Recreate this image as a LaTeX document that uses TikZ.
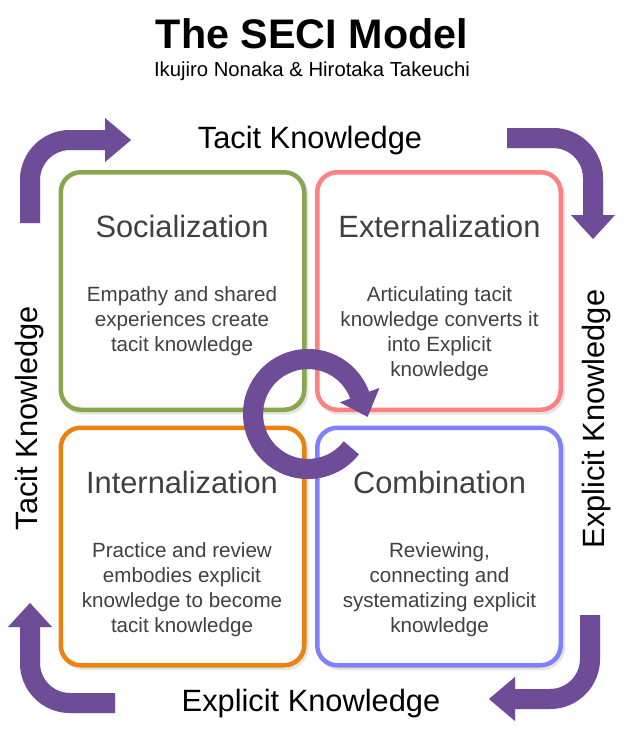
\documentclass[tikz,border=0pt]{standalone}
\usepackage{fontspec}
\setmainfont{Liberation Sans}
\usetikzlibrary{calc}
\definecolor{secigreen}{RGB}{137,165,78}
\definecolor{secipink}{RGB}{255,128,128}
\definecolor{seciorange}{RGB}{235,130,15}
\definecolor{seciblue}{RGB}{128,128,255}
\definecolor{arrowpurple}{RGB}{110,76,152}
\definecolor{textgray}{RGB}{64,64,64}
\newcommand\setfs[2]{\fontsize{#1}{#2}\selectfont}
\begin{document}
\begin{tikzpicture}[x=1pt,y=-1pt,
  boxframe/.style={draw, line width=4.5pt, rounded corners=20pt, fill=white,
    minimum width=243.5pt, minimum height=237.5pt, inner sep=0pt},
  boxtitle/.style={anchor=base, text=textgray, font=\setfs{30.8}{36}},
  boxbody/.style={anchor=center, align=center, text=textgray, font=\setfs{20.6}{25}},
  sidelabel/.style={anchor=base, text=black, font=\setfs{30.8}{36}},
  band/.style={line width=20pt, line cap=butt},
]
\useasboundingbox (0,0) rectangle (625,734);
\fill[white] (0,0) rectangle (625,734);

% titles
\node[anchor=base, font=\bfseries\setfs{41.3}{49}] (title) at (312,48) {The SECI Model};
\node[anchor=base, font=\setfs{20.3}{24}] (authors) at (312,76) {Ikujiro Nonaka \& Hirotaka Takeuchi};

% axis labels
\node[sidelabel] (tacittop) at (310,148) {Tacit Knowledge};
\node[sidelabel] (explicitbottom) at (311,711) {Explicit Knowledge};
\node[sidelabel, rotate=90] (tacitleft) at (37,418) {Tacit Knowledge};
\node[sidelabel, rotate=90] (explicitright) at (604,419) {Explicit Knowledge};

% box shadows
\foreach \cx/\cy in {182.5/291, 439/291, 182.5/546.5, 439/546.5}{
  \node[boxframe, draw=black!10, fill=black!10, line width=4.5pt] at (\cx+2,\cy+2.5) {};
}

% quadrants
\node[boxframe, draw=secigreen] (soc) at (182.5,291) {};
\node[boxframe, draw=secipink] (ext) at (439,291) {};
\node[boxframe, draw=seciorange] (int) at (182.5,546.5) {};
\node[boxframe, draw=seciblue] (com) at (439,546.5) {};

\node[boxtitle] (soctitle) at (182,237) {Socialization};
\node[boxtitle] (exttitle) at (439.5,237) {Externalization};
\node[boxtitle] (inttitle) at (182,493) {Internalization};
\node[boxtitle] (comtitle) at (439.5,493) {Combination};

\node[boxbody] (socbody) at (182,321) {Empathy and shared\\experiences create\\tacit knowledge};
\node[boxbody] (extbody) at (439.5,333.5) {Articulating tacit\\knowledge converts it\\into Explicit\\knowledge};
\node[boxbody] (intbody) at (182,589.5) {Practice and review\\embodies explicit\\knowledge to become\\tacit knowledge};
\node[boxbody] (combody) at (439.5,589.5) {Reviewing,\\connecting and\\systematizing explicit\\knowledge};

% named points of the cycle arrows
\coordinate (tlstart) at (30,223);
\coordinate (tlcorner) at (30,140);
\coordinate (tlend) at (106,140);
\coordinate (trstart) at (507,138);
\coordinate (trcorner) at (593,138);
\coordinate (trend) at (593,216);
\coordinate (brstart) at (590,615);
\coordinate (brcorner) at (590,699);
\coordinate (brend) at (514,699);
\coordinate (blstart) at (115,703);
\coordinate (blcorner) at (30,703);
\coordinate (blend) at (30,626);
\coordinate (ringc) at (308,414);

\foreach \sx/\sy/\col/\op in {2/3/black/0.22, 0/0/arrowpurple/1}{
  \begin{scope}[shift={(\sx,\sy)}, transparency group, opacity=\op]
    % top-left
    \draw[band, draw=\col, rounded corners=40pt] (tlstart) -- (tlcorner) -- (tlend);
    \fill[\col] ($(tlend)+(-1,-22)$) -- ($(tlend)+(25,0)$) -- ($(tlend)+(-1,22)$) -- cycle;
    % top-right
    \draw[band, draw=\col, rounded corners=40pt] (trstart) -- (trcorner) -- (trend);
    \fill[\col] ($(trend)+(-22,-1)$) -- ($(trend)+(0,23)$) -- ($(trend)+(22,-1)$) -- cycle;
    % bottom-right
    \draw[band, draw=\col, rounded corners=40pt] (brstart) -- (brcorner) -- (brend);
    \fill[\col] ($(brend)+(1,-22)$) -- ($(brend)+(-25,0)$) -- ($(brend)+(1,22)$) -- cycle;
    % bottom-left
    \draw[band, draw=\col, rounded corners=40pt] (blstart) -- (blcorner) -- (blend);
    \fill[\col] ($(blend)+(-22,1)$) -- ($(blend)+(0,-23)$) -- ($(blend)+(22,1)$) -- cycle;
    % central cycle
    \draw[band, draw=\col] ($(ringc)+(38:55)$) arc[start angle=38, end angle=340.5, radius=55];
    \fill[\col] ($(ringc)+(340:55)+(340:21)$) -- ($(ringc)+(340:55)+(70:23)$) -- ($(ringc)+(340:55)+(160:21)$) -- cycle;
  \end{scope}
}
\end{tikzpicture}
\end{document}
